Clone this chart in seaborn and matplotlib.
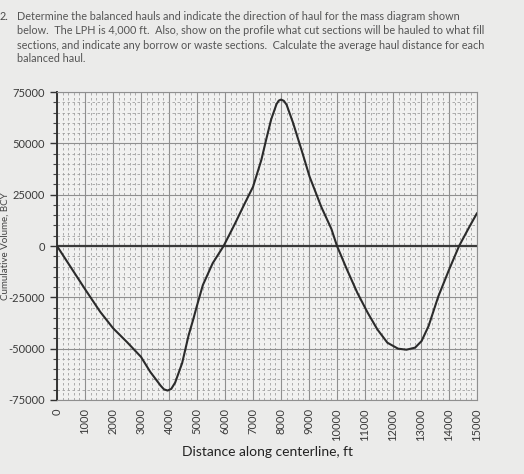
import matplotlib
matplotlib.use("Agg")
import matplotlib.pyplot as plt
import seaborn as sns
import pandas as pd
from matplotlib.ticker import MultipleLocator

# mass diagram
distance = [0, 1000, 1540, 2000, 2500, 3000, 3330, 3700, 3820, 3950, 4080, 4220,
            4470, 4700, 4860, 5000, 5210, 5560, 5950, 6350, 6700, 7000, 7300,
            7470, 7650, 7840, 7920, 8000, 8100, 8200, 8430, 8730, 9020, 9440, 9800,
            10000, 10360, 10730, 11100, 11440, 11800, 12180, 12480, 12790, 13020,
            13270, 13620, 14000, 14360, 14730, 15000]
volume = [0, -21000, -32000, -40000, -46800, -54000, -61300, -68000, -69800,
          -70400, -69600, -66500, -57000, -43500, -36000, -29000, -19000, -8400,
          0, 10700, 20600, 28800, 42000, 51800, 61700, 69100, 70800, 71300, 70700,
          68800, 60000, 46900, 33800, 19000, 8300, 0, -11600, -22900, -32600,
          -40600, -47100, -50000, -50500, -49500, -46300, -39000, -24500, -11600,
          0, 9400, 16000]

x_ticks = list(range(0, 15001, 1000))
y_ticks = [-75000, -50000, -25000, 0, 25000, 50000, 75000]

question = [
    "Determine the balanced hauls and indicate the direction of haul for the mass diagram shown",
    "below.  The LPH is 4,000 ft.  Also, show on the profile what cut sections will be hauled to what fill",
    "sections, and indicate any borrow or waste sections.  Calculate the average haul distance for each",
    "balanced haul.",
]

sns.set_style("white")
plt.rcParams["font.family"] = ["Lato", "DejaVu Sans"]

df = pd.DataFrame({"distance": distance, "volume": volume})

fig = plt.figure(figsize=(5.24, 4.74), dpi=100, facecolor="#ebebea")
ax = fig.add_axes([57 / 524, 74 / 474, 420 / 524, 308 / 474])
ax.set_facecolor("#f1f1f0")

# grid first so the curve sits on top
ax.xaxis.set_minor_locator(MultipleLocator(200))
ax.yaxis.set_minor_locator(MultipleLocator(5000))
ax.grid(which="major", color="#8f8f8f", linewidth=0.8)
ax.grid(which="minor", color="#a0a0a0", linewidth=0.6, linestyle=(0, (3, 3)))
ax.set_axisbelow(True)
ax.axhline(0, color="#3a3a3a", linewidth=1.6, zorder=2)

sns.lineplot(data=df, x="distance", y="volume", ax=ax, color="#2b2b2b",
             linewidth=1.5, sort=False, zorder=3)

ax.set_xlim(0, 15000)
ax.set_ylim(-75000, 75000)
ax.set_xticks(x_ticks)
ax.set_xticklabels([str(v) for v in x_ticks], rotation=90)
ax.set_yticks(y_ticks)
ax.set_yticklabels([str(v) for v in y_ticks])
ax.tick_params(axis="both", which="major", labelsize=8, labelcolor="#3a3a3a")
ax.tick_params(axis="y", which="major", length=5, width=1, color="#333333", left=True)
ax.tick_params(axis="y", which="minor", length=3, width=0.8, color="#444444", left=True)
ax.tick_params(axis="x", which="both", length=0, pad=6)

for side in ["top", "right", "bottom"]:
    ax.spines[side].set_color("#8f8f8f")
    ax.spines[side].set_linewidth(0.8)
ax.spines["left"].set_color("#333333")
ax.spines["left"].set_linewidth(1.4)

ax.set_xlabel("Distance along centerline, ft", fontsize=10, color="#222222", labelpad=4)
ax.set_ylabel("Cumulative Volume, BCY", fontsize=7, color="#444444")
ax.yaxis.set_label_coords(-47 / 420, 0.5)

fig.text(0 / 524, 1 - 17 / 474, "2.", fontsize=7.8, color="#4a4a4a", va="center")
for i, line in enumerate(question):
    fig.text(17 / 524, 1 - (17 + 14 * i) / 474, line, fontsize=7.8,
             color="#555555", va="center")

fig.savefig("out.png", dpi=100, facecolor=fig.get_facecolor())
